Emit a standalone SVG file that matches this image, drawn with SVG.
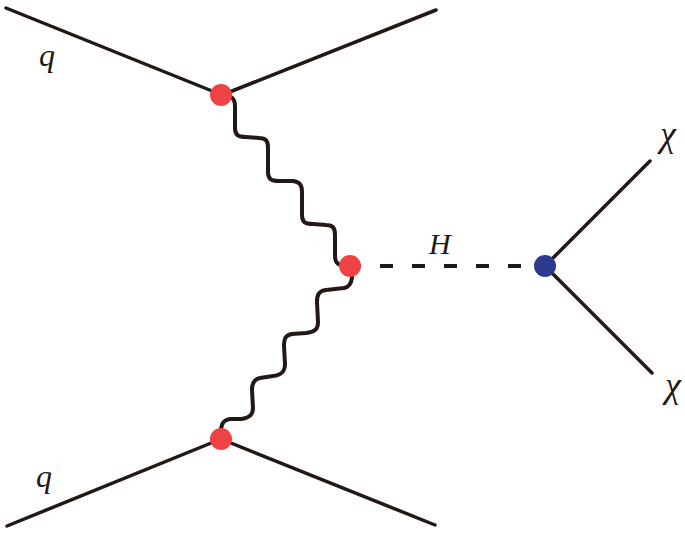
<svg xmlns="http://www.w3.org/2000/svg" width="685" height="533" viewBox="0 0 685 533">
<style>
.f{stroke:#231815;stroke-width:3.5;fill:none;stroke-linecap:round}
.w{stroke:#231815;stroke-width:4;fill:none;stroke-linecap:round;stroke-linejoin:round}
.d{stroke:#231815;stroke-width:4;fill:none;stroke-dasharray:13 19}
.r{fill:#EF4242}
.b{fill:#2B3A8F}
.t{font-family:"Liberation Serif",serif;font-style:italic;fill:#231815}
</style>
<rect width="685" height="533" fill="#fff"/>
<g id="connectors">
<line class="f" x1="6" y1="8" x2="222" y2="95"/>
<line class="f" x1="222" y1="95" x2="436" y2="10"/>
<line class="f" x1="7" y1="526" x2="221" y2="439"/>
<line class="f" x1="221" y1="439" x2="435" y2="525"/>
<path class="w" d="M222,95 C231,95 235,98 235,106 L235,128 C235,135 238,137 246,137 L259,138 C266,138 268,141 268,148 L268,172 C268,179 271,181 279,181 L293,181 C300,182 302,185 302,192 L302,215 C302,222 305,224 313,224 L326,225 C333,225 335,228 335,235 L335,256 C335,264 339,266 350,266"/>
<path class="w" d="M350,266 C353,272 354,286 344,288 L326,290 C318,291 317,296 317,302 L318,322 C318,330 314,332 306,333 L292,334 C286,335 284,338 284,346 L285,364 C285,372 281,375 273,376 L260,378 C254,379 252,383 252,390 L253,408 C253,415 249,418 241,419 L230,419 C223,420 220,424 221,439"/>
<path class="d" d="M348,266 L534,266"/>
<line class="f" x1="545" y1="266" x2="650" y2="161"/>
<line class="f" x1="545" y1="266" x2="652" y2="373"/>
</g>
<g id="v1"><circle class="r" cx="221" cy="95" r="11"/></g>
<g id="v2"><circle class="r" cx="350" cy="266" r="11"/></g>
<g id="v3"><circle class="r" cx="221" cy="439" r="11"/></g>
<g id="v4"><circle class="b" cx="545" cy="266" r="11"/></g>
<g id="labels">
<text class="t" x="39" y="66" font-size="32">q</text>
<text class="t" x="36" y="487" font-size="32">q</text>
<text class="t" x="429" y="254" font-size="30">H</text>
<text class="t" x="660" y="146" font-size="36">χ</text>
<text class="t" x="665" y="397" font-size="36">χ</text>
</g>
</svg>
